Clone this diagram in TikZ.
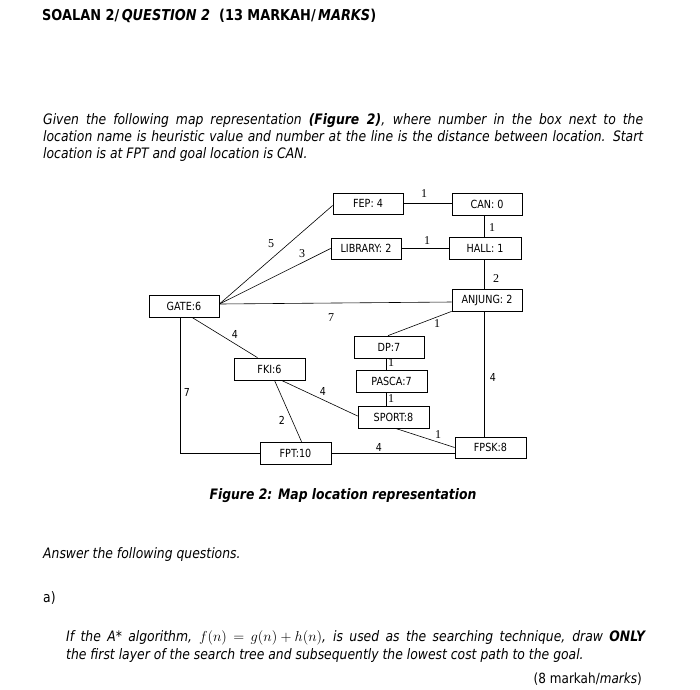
\documentclass[tikz,border=0pt]{standalone}
\usepackage{fontspec}
\setmainfont{DejaVu Sans}[FakeStretch=0.86]
\newfontfamily\labserif{Liberation Serif}
\begin{document}
\begin{tikzpicture}[x=1pt,y=-1pt,
  box/.style={draw, line width=0.75pt, minimum width=71pt, minimum height=22pt, inner sep=0pt, font=\fontsize{11.2}{13}\selectfont},
  conn/.style={line width=0.6pt},
  ls/.style={font=\labserif\fontsize{12}{14}\selectfont, inner sep=0pt},
  lf/.style={font=\fontsize{11}{13}\selectfont, inner sep=0pt},
  txt/.style={anchor=base west, inner sep=0pt, font=\fontsize{14.4}{17}\selectfont}]
\useasboundingbox (0,0) rectangle (700,689);

% ---- text ----
\node[txt, font=\fontsize{15}{18}\selectfont\bfseries] (title) at (42,20) {SOALAN 2/\,\textit{QUESTION 2}\ \ (13 MARKAH/\,\textit{MARKS})};
\node[txt] (p1) at (43,124) {\itshape\makebox[600pt][s]{Given the following map representation \textbf{(Figure 2)}, where number in the box next to the}};
\node[txt] (p2) at (43,141) {\itshape\makebox[600pt][s]{location name is heuristic value and number at the line is the distance between location. Start}};
\node[txt] (p3) at (43,158) {\itshape location is at FPT and goal location is CAN.};
\node[anchor=base, inner sep=0pt, font=\fontsize{14.4}{17}\selectfont\bfseries\itshape] (cap) at (343,499) {Figure 2: Map location representation};
\node[txt] (ans) at (43,558) {\itshape Answer the following questions.};
\node[txt] (qa) at (43,602) {a)};
\node[txt] (q1) at (66,641) {\itshape\makebox[579pt][s]{If the A* algorithm, \mbox{$f(n)\,=\,g(n)+h(n)$}, is used as the searching technique, draw \textbf{ONLY}}};
\node[txt] (q2) at (66,659) {\itshape the first layer of the search tree and subsequently the lowest cost path to the goal.};
\node[anchor=base east, inner sep=0pt, font=\fontsize{14}{16}\selectfont] (mk) at (642,683) {(8 markah/\textit{marks})};

% ---- nodes ----
\node[box, minimum width=70pt, minimum height=21pt] (FEP) at (368,203.5) {FEP: 4};
\node[box, minimum width=70pt] (CAN) at (487,204) {CAN: 0};
\node[box, minimum width=70pt, minimum height=21pt] (LIB) at (366,248.5) {LIBRARY: 2};
\node[box, minimum width=72pt] (HALL) at (485,248) {HALL: 1};
\node[box, minimum width=70pt] (ANJ) at (487,300) {ANJUNG: 2};
\node[box, minimum width=70pt] (GATE) at (184,306) {GATE:6};
\node[box] (FKI) at (269.5,369) {FKI:6};
\node[box] (FPT) at (295.5,453) {FPT:10};
\node[box, minimum width=70pt] (DP) at (389,347) {DP:7};
\node[box] (PASCA) at (391.5,381) {PASCA:7};
\node[box] (SPORT) at (393.5,417) {SPORT:8};
\node[box, minimum height=21pt] (FPSK) at (490.5,447.5) {FPSK:8};

\coordinate (gE) at ([yshift=2pt]GATE.east);

% ---- connectors ----
\draw[conn] (FEP.east) -- (FEP.east -| CAN.west);
\draw[conn] ([xshift=-3pt]CAN.south) -- ([xshift=-3pt]CAN.south |- HALL.north);
\draw[conn] (LIB.east) -- (LIB.east -| HALL.west);
\draw[conn] ([xshift=-1pt]HALL.south) -- ([xshift=-1pt]HALL.south |- ANJ.north);
\draw[conn] (gE) -- ([yshift=-2pt]FEP.west);
\draw[conn] (gE) -- (LIB.west);
\draw[conn] (gE) -- ([yshift=-2pt]ANJ.west);
\draw[conn] (ANJ.south west) -- ([xshift=-1pt]DP.north);
\draw[conn] ([xshift=-3pt]ANJ.south) -- ([xshift=-3pt]ANJ.south |- FPSK.north);
\draw[conn] ([xshift=-4pt]GATE.south) |- (FPT.west);
\draw[conn] ([xshift=8pt]GATE.south) -- ([xshift=-12pt]FKI.north);
\draw[conn] ([xshift=5pt]FKI.south) -- ([xshift=6pt]FPT.north);
\draw[conn] ([xshift=12pt]FKI.south) -- ([yshift=1pt]SPORT.west);
\draw[conn] (FPT.east) -- (FPT.east -| FPSK.west);
\draw[conn] ([xshift=2pt]SPORT.south) -- (FPSK.west);
\draw[conn] ([xshift=-3pt]DP.south) -- ([xshift=-3pt]DP.south |- PASCA.north);
\draw[conn] ([xshift=-5pt]PASCA.south) -- ([xshift=-5pt]PASCA.south |- SPORT.north);

% ---- edge labels ----
\node[ls] (l1) at (424,194) {1};
\node[ls] (l2) at (492,228) {1};
\node[ls] (l3) at (427,241) {1};
\node[ls] (l4) at (496,279) {2};
\node[ls] (l5) at (271,244) {5};
\node[ls] (l6) at (302,254) {3};
\node[ls] (l7) at (331,318) {7};
\node[ls] (l8) at (437,324) {1};
\node[ls] (l9) at (391,363) {1};
\node[ls] (l10) at (391,399) {1};
\node[ls] (l11) at (438,435) {1};
\node[lf] (l12) at (493,377) {4};
\node[lf] (l13) at (235,334) {4};
\node[lf] (l14) at (187,392) {7};
\node[lf] (l15) at (282,420) {2};
\node[lf] (l16) at (323,391) {4};
\node[lf] (l17) at (379,447) {4};
\end{tikzpicture}
\end{document}
